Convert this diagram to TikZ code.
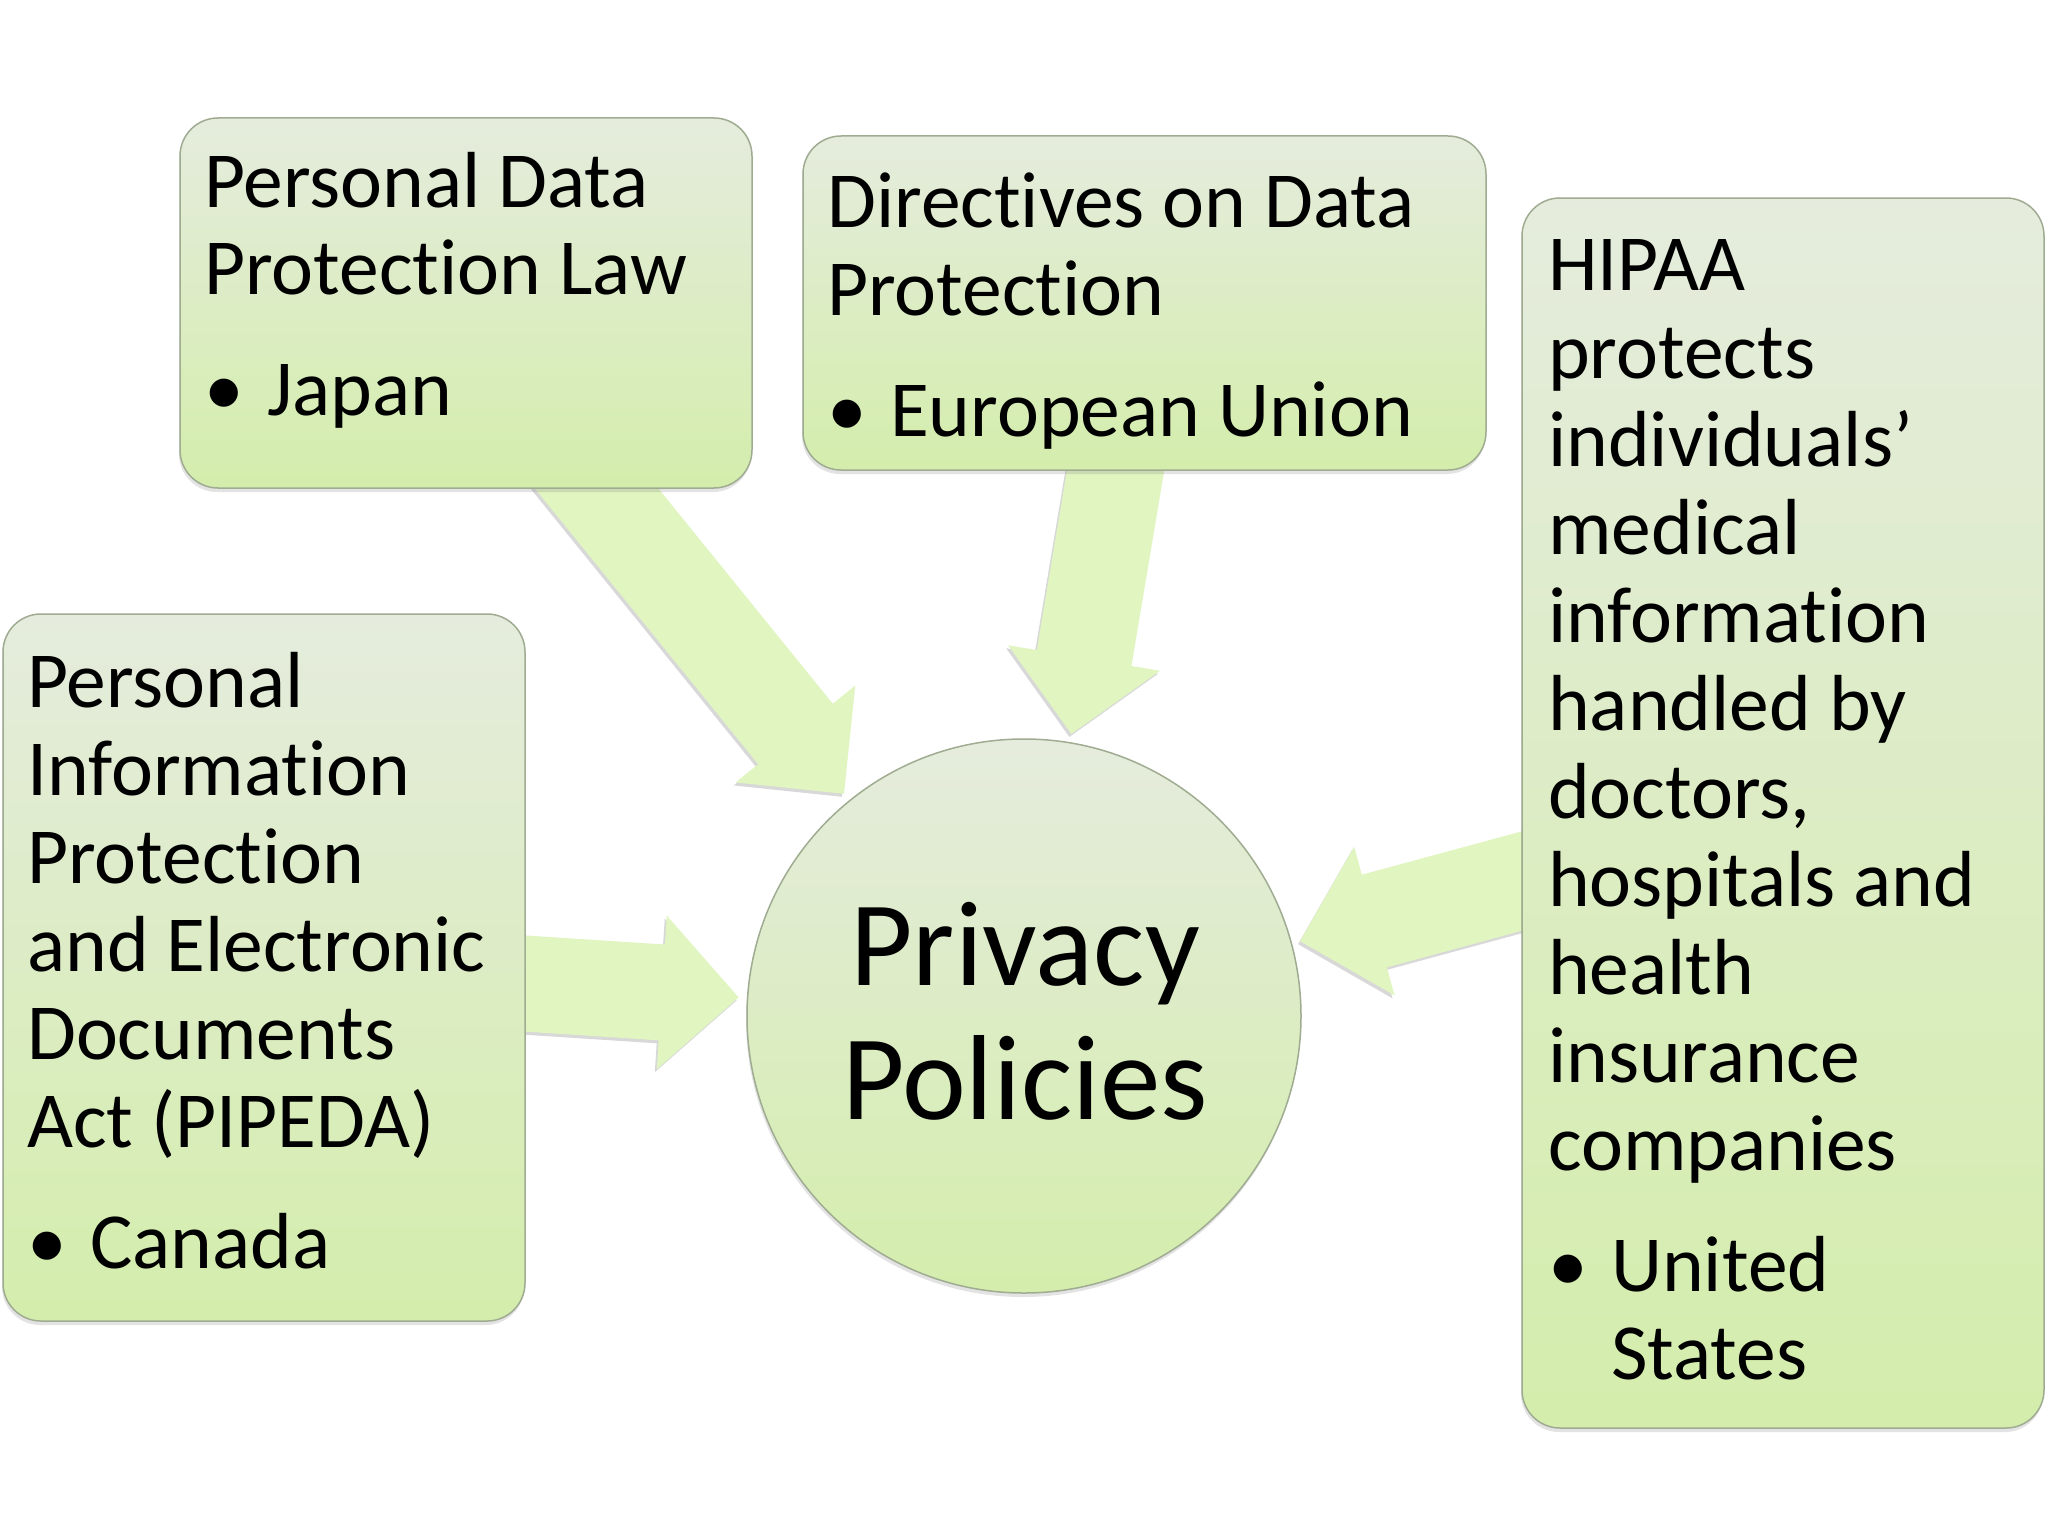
\documentclass[tikz,border=0pt]{standalone}
\usepackage{fontspec}
\setmainfont{Carlito}[Ligatures={NoCommon}]
\usetikzlibrary{calc,shadows}
\pgfdeclarelayer{bg}
\pgfsetlayers{bg,main}
\definecolor{boxtop}{RGB}{229,236,221}
\definecolor{boxbot}{RGB}{212,237,172}
\definecolor{boxline}{RGB}{160,172,146}
\definecolor{arrowfill}{RGB}{224,245,192}
\tikzset{
  card/.style={draw=boxline, line width=1.5pt, rounded corners=38pt,
    top color=boxtop, bottom color=boxbot, inner sep=0pt,
    drop shadow={shadow xshift=-1pt, shadow yshift=-4pt, opacity=0.22}},
  hub/.style={circle, draw=boxline, line width=1.5pt,
    top color=boxtop, bottom color=boxbot, inner sep=0pt, minimum size=554pt,
    drop shadow={shadow xshift=-1pt, shadow yshift=-4pt, opacity=0.22}},
  boxtext/.style={anchor=base west, inner sep=0pt, align=flush left, text width=650pt,
    font=\fontsize{79.5}{88}\selectfont},
  bigtext/.style={anchor=base, inner sep=0pt, align=flush center, text width=700pt,
    font=\fontsize{121}{134}\selectfont},
  blockarrow/.style={fill=arrowfill,
    drop shadow={shadow xshift=-2pt, shadow yshift=-3pt, opacity=0.3}}
}
\newcommand{\bul}{\makebox[63pt][l]{\textbullet}}
\newcommand{\blockarr}[2]{%
  \coordinate (T) at (#1);
  \coordinate (H) at ($(#2.center)!286pt!(#1)$);
  \coordinate (C) at ($(H)!77pt!(T)$);
  \path[blockarrow] ($(T)!48pt!90:(H)$) -- ($(C)!48pt!90:(H)$) -- ($(C)!77pt!90:(H)$)
    -- (H) -- ($(C)!77pt!-90:(H)$) -- ($(C)!48pt!-90:(H)$) -- ($(T)!48pt!-90:(H)$) -- cycle;
}
\begin{document}
\begin{tikzpicture}[x=1pt,y=-1pt]
\useasboundingbox (0,0) rectangle (2048,1536);

% boxes
\node[card, minimum width=572pt, minimum height=370pt] (b1) at (466,303) {};
\node[card, minimum width=683pt, minimum height=334pt] (b2) at (1144.5,303) {};
\node[card, minimum width=522pt, minimum height=1230pt] (b3) at (1783,813) {};
\node[card, minimum width=522pt, minimum height=707pt] (b4) at (264,967.5) {};
\node[hub] (pp) at (1024,1016) {};

% arrow tails inside the boxes
\coordinate (s1) at (503,373);
\coordinate (s2) at (1140,325);
\coordinate (s3) at (1618,855);
\coordinate (s4) at (425,977);

\begin{pgfonlayer}{bg}
\fill[white] (0,0) rectangle (2048,1536);
\blockarr{s1}{pp}
\blockarr{s2}{pp}
\blockarr{s3}{pp}
\blockarr{s4}{pp}
\end{pgfonlayer}

% texts
\node[boxtext] (t1) at (204,207) {Personal Data\\Protection Law\\[33pt]\bul Japan};
\node[boxtext] (t2) at (827,227) {Directives on Data\\Protection\\[33pt]\bul European Union};
\node[boxtext] (t3) at (1548,290) {HIPAA\\protects\\individuals’\\medical\\information\\handled by\\doctors,\\hospitals and\\health\\insurance\\companies\\[33pt]\bul United\\\hspace*{63pt}States};
\node[boxtext] (t4) at (27,707) {Personal\\Information\\Protection\\and Electronic\\Documents\\Act (PIPEDA)\\[33pt]\bul Canada};
\node[bigtext] (tp) at (1025,985) {Privacy\\Policies};
\end{tikzpicture}
\end{document}
